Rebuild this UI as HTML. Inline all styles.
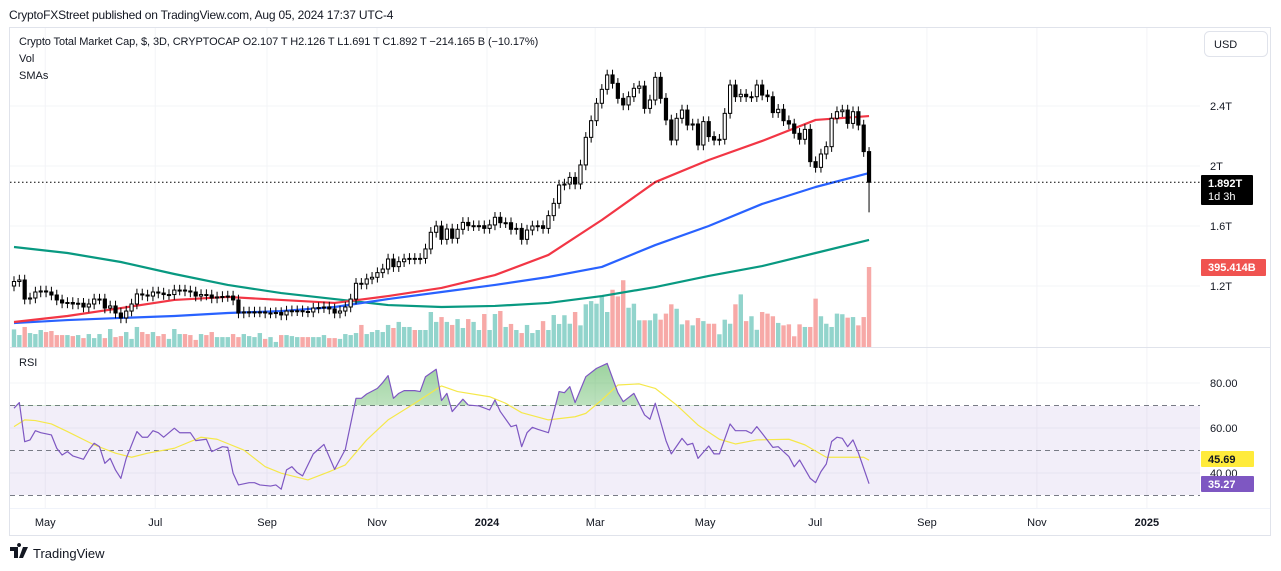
<!DOCTYPE html>
<html><head><meta charset="utf-8">
<style>
html,body{margin:0;padding:0;background:#fff;width:1281px;height:571px;overflow:hidden;font-family:"Liberation Sans",sans-serif;}
svg{display:block}
text{font-family:"Liberation Sans",sans-serif;}
</style></head>
<body>
<svg id="chart" width="1281" height="571" viewBox="0 0 1281 571" xmlns="http://www.w3.org/2000/svg">
<defs>
<linearGradient id="obFill" x1="0" y1="0" x2="0" y2="1">
<stop offset="0" stop-color="#4caf50" stop-opacity="0.55"/>
<stop offset="1" stop-color="#4caf50" stop-opacity="0"/>
</linearGradient>
<clipPath id="above70"><rect x="10" y="348" width="1190" height="58"/></clipPath>
</defs>
<text x="9" y="19" font-size="12" fill="#131722" letter-spacing="-0.2">CryptoFXStreet published on TradingView.com, Aug 05, 2024 17:37 UTC-4</text>
<rect x="9.5" y="27.5" width="1261" height="508" fill="#fff" stroke="#e0e3eb"/>
<g id="grid"></g>
<rect x="10" y="406" width="1190" height="89" fill="#7e57c2" fill-opacity="0.1"/>
<g id="main"></g>
<g id="rsi"></g>
<line x1="10" y1="347.5" x2="1270" y2="347.5" stroke="#e0e3eb"/>
<line x1="10" y1="508.5" x2="1270" y2="508.5" stroke="#f0f3fa"/>
<g id="axes"></g>
<text x="19" y="45" font-size="11" fill="#131722" letter-spacing="-0.1">Crypto Total Market Cap, $, 3D, CRYPTOCAP  O2.107 T  H2.126 T  L1.691 T  C1.892 T  −214.165 B (−10.17%)</text>
<text x="19" y="62" font-size="11" fill="#131722">Vol</text>
<text x="19" y="79" font-size="11" fill="#131722">SMAs</text>
<text x="19" y="366" font-size="11" fill="#131722">RSI</text>
<rect x="1204.5" y="31.5" width="63" height="25" rx="5" fill="#fff" stroke="#e0e3eb"/>
<text x="1214" y="48" font-size="11" fill="#131722">USD</text>
<g>
<path d="M10 547 h8 v11 h-4 v-7 h-4 z M19 547 a2 2 0 1 1 0.1 0 z M23 547 h5 l-5 11 h-4 z" fill="#131722"/>
</g>
<text x="33" y="558" font-size="13" fill="#131722">TradingView</text>
</svg>
<script>
// ---- data ----
const closes = [1.23,1.24,1.113,1.12,1.16,1.167,1.16,1.14,1.107,1.087,
1.09,1.08,1.085,1.06,1.08,1.113,1.113,1.053,1.067,1.02,
0.987,1.033,1.08,1.147,1.14,1.133,1.16,1.153,1.143,1.143,
1.173,1.173,1.167,1.16,1.133,1.143,1.14,1.12,1.127,1.13,
1.133,1.107,1.02,1.027,1.027,1.027,1.027,1.02,1.02,1.023,
1.007,1.033,1.035,1.035,1.03,1.027,1.053,1.056,1.06,1.047,
1.02,1.033,1.06,1.113,1.218,1.213,1.247,1.258,1.289,1.313,
1.38,1.329,1.362,1.38,1.384,1.38,1.384,1.447,1.558,1.6,
1.511,1.58,1.518,1.578,1.624,1.602,1.602,1.602,1.584,1.607,
1.658,1.622,1.622,1.578,1.584,1.511,1.573,1.6,1.602,1.584,
1.669,1.751,1.873,1.88,1.924,1.88,2.007,2.191,2.302,2.418,
2.511,2.607,2.551,2.451,2.407,2.462,2.518,2.533,2.384,2.44,
2.591,2.451,2.307,2.173,2.318,2.373,2.273,2.28,2.14,2.296,
2.196,2.173,2.178,2.351,2.54,2.462,2.478,2.462,2.462,2.54,
2.473,2.462,2.356,2.378,2.302,2.28,2.218,2.178,2.244,2.029,
1.991,2.08,2.129,2.318,2.362,2.373,2.284,2.362,2.273,2.096,1.892];
const firstOpen = 1.20;
const lastHigh = 2.126;
const lastLow = 1.691;
const volumes = [87,59,99,69,64,84,74,79,59,59,59,54,59,44,64,44,64,44,89,49,54,74,40,99,74,64,74,54,64,40,89,64,64,59,35,64,59,74,49,49,49,64,49,64,54,49,69,40,49,25,59,59,54,
49,49,49,49,49,59,44,44,40,64,59,69,109,64,74,84,74,109,94,124,99,99,84,84,84,173,124,148,124,109,138,94,138,124,84,163,84,163,178,99,114,84,69,109,69,84,128,84,158,114,
157,115,173,107,211,227,214,255,173,283,250,330,194,214,132,132,132,165,135,165,211,189,112,132,107,143,128,115,115,63,135,115,211,260,128,152,85,173,165,152,119,107,112,53,112,99,99,239,152,115,99,165,162,145,148,107,148,395.414];
const smaIdx = [0,10,20,30,40,50,60,70,80,90,100,110,120,130,140,150,160];
const sma50 = [0.96,1.0,1.053,1.107,1.127,1.107,1.087,1.133,1.187,1.273,1.407,1.64,1.893,2.04,2.167,2.307,2.333];
const sma100 = [0.953,0.973,0.987,1.0,1.02,1.033,1.06,1.113,1.16,1.207,1.26,1.327,1.473,1.6,1.747,1.86,1.953];
const sma200 = [1.46,1.42,1.36,1.28,1.207,1.153,1.113,1.073,1.06,1.067,1.087,1.133,1.193,1.267,1.333,1.42,1.507];
const rsiIdx = [0,1,2,3,4,5,7,8,9,10,11,13,14,15,16,17,18,19,20,21,23,24,25,26,27,28,30,31,33,34,36,37,39,40,41,42,44,45,46,48,49,50,51,52,53,54,56,58,60,62,64,65,66,68,69,70,71,72,73,75,76,77,79,80,81,82,84,85,87,89,90,91,93,94,95,96,97,98,100,102,103,104,105,107,109,111,113,114,116,118,119,120,122,123,125,126,127,128,130,131,132,134,135,137,138,139,140,142,143,145,146,147,149,150,151,152,153,154,155,156,157,158,160];
const rsiVal = [68.8,71.3,53.9,54.7,58.8,57.9,56.9,51.0,48.0,49.5,47.6,46.1,50.2,53.2,51.7,44.3,46.5,41.3,37.6,46.5,58.4,55.9,55.9,58.8,57.9,55.9,59.9,57.9,57.9,54.4,55.0,49.5,51.7,51.4,39.9,34.7,35.7,35.7,34.7,34.2,34.7,32.8,41.4,42.8,40.2,38.7,48.5,52.7,41.6,50.5,73.2,73.2,75.1,77.6,80.2,83.3,73.2,75.4,76.6,76.6,76.2,82.8,86.1,72.2,75.4,67.3,72.8,70.2,69.8,68.0,72.5,67.3,60.6,61.3,51.7,57.9,60.3,59.4,57.9,76.2,75.7,78.4,71.3,82.8,86.5,88.7,75.7,71.7,75.4,65.8,63.9,71.0,54.4,48.5,55.4,52.5,53.2,46.5,52.0,48.5,48.5,61.8,58.8,58.8,57.6,60.6,57.6,51.4,51.7,47.3,42.8,45.8,37.6,35.7,40.6,44.0,54.0,55.9,55.4,51.7,54.7,49.0,35.27];
const rsiMaIdx = [0,2,4,7,10,15,19,22,25,30,35,38,43,47,50,55,59,62,66,70,75,80,83,89,92,95,100,105,107,110,113,117,120,124,128,132,135,139,145,148,152,155,159,160];
const rsiMaVal = [60.6,63.6,63.3,61.8,58.4,52.5,48.8,47.0,48.8,51.0,55.9,55.0,50.2,42.8,39.9,36.9,40.6,43.6,54.7,63.6,71.0,78.7,76.2,73.9,71.0,66.8,63.6,65.0,66.5,72.5,79.1,79.6,77.6,70.2,61.3,55.0,52.9,54.7,55.0,52.5,47.0,47.0,47.0,45.69];
const priceTicks = [2.4,2.0,1.6,1.2];
const priceTickLabels = ["2.4T","2T","1.6T","1.2T"];
const rsiTicks = [80,60,40];
const rsiTickLabels = ["80.00","60.00","40.00"];
const timeLabels = ["May","Jul","Sep","Nov","2024","Mar","May","Jul","Sep","Nov","2025"];
const timeDays = [-245,-184,-122,-61,0,60,121,182,244,305,366];

// ---- scales ----
const NS="http://www.w3.org/2000/svg";
const X0=14, DX=5.344;
const xi = i => X0 + i*DX;
const yP = v => 106 + (2.4 - v)*150;
const yV = v => 347 - v/395.414*80;
const yR = v => 383 + (80 - v)*2.25;
const xDay = d => 487 + d*1.803;
function mk(tag, attrs, parent){const e=document.createElementNS(NS,tag);for(const k in attrs)e.setAttribute(k,attrs[k]);parent.appendChild(e);return e;}
const main=document.getElementById('main'), rsiG=document.getElementById('rsi'), grid=document.getElementById('grid'), axes=document.getElementById('axes');

timeDays.forEach(d=>{const l=mk('line',{x1:xDay(d),x2:xDay(d),y1:28,y2:508,stroke:'#f3f4f7'},grid);

});
priceTicks.forEach(v=>{const l=mk('line',{x1:10,x2:1200,y1:yP(v),y2:yP(v),stroke:'#f3f4f7'},grid);

});
[80,60,40].forEach(v=>{const l=mk('line',{x1:10,x2:1200,y1:yR(v),y2:yR(v),stroke:'#f3f4f7'},grid);

});

volumes.forEach((v,i)=>{const o=i?closes[i-1]:firstOpen;const up=closes[i]>=o;
const r=mk('rect',{x:xi(i)-2.2,y:yV(v),width:4.4,height:347-yV(v),fill:up?'#92d4cc':'#f7a9a7'},main);

});

function line(idx,vals,ys,color,w,parent,name){const p=mk('polyline',{points:idx.map((k,j)=>xi(k)+','+ys(vals[j])).join(' '),fill:'none',stroke:color,'stroke-width':w,'stroke-linejoin':'round'},parent);

return p;}
line(smaIdx,sma200,yP,'#089981',2.2,main,'sma-200-line');
line(smaIdx,sma100,yP,'#2962ff',2.2,main,'sma-100-line');
line(smaIdx,sma50,yP,'#f23645',2.2,main,'sma-50-line');

closes.forEach((c,i)=>{const o=i?closes[i-1]:firstOpen;const up=c>=o;
let hi=Math.max(o,c)+0.035, lo=Math.min(o,c)-0.035;
if(i===closes.length-1){hi=lastHigh;lo=lastLow;}
const w=mk('line',{x1:xi(i),x2:xi(i),y1:yP(hi),y2:yP(lo),stroke:'#000','stroke-width':1},main);


const top=yP(Math.max(o,c)), bh=Math.max(1,yP(Math.min(o,c))-top);
const b=mk('rect',{x:xi(i)-1.6,y:top,width:3.2,height:bh,fill:up?'#fff':'#000',stroke:'#000','stroke-width':1},main);

});

const pl=mk('line',{x1:10,x2:1200,y1:yP(closes[closes.length-1]),y2:yP(closes[closes.length-1]),stroke:'#000','stroke-dasharray':'1.5 2.5'},main);



[70,50,30].forEach(v=>{const l=mk('line',{x1:10,x2:1200,y1:yR(v),y2:yR(v),stroke:'#787b86','stroke-dasharray':'5 4'},rsiG);

});
const ob=mk('polygon',{points:xi(rsiIdx[0])+','+yR(70)+' '+rsiIdx.map((k,j)=>xi(k)+','+yR(rsiVal[j])).join(' ')+' '+xi(rsiIdx[rsiIdx.length-1])+','+yR(70),fill:'url(#obFill)','clip-path':'url(#above70)'},rsiG);


line(rsiMaIdx,rsiMaVal,yR,'#f5e84a',1.2,rsiG,'rsi-ma-line');
line(rsiIdx,rsiVal,yR,'#7e57c2',1.2,rsiG,'rsi-line');

priceTicks.forEach((v,j)=>{const t=mk('text',{x:1210,y:yP(v)+4,'font-size':11,fill:'#131722'},axes);t.textContent=priceTickLabels[j];

});
rsiTicks.forEach((v,j)=>{const t=mk('text',{x:1210,y:yR(v)+4,'font-size':11,fill:'#131722'},axes);t.textContent=rsiTickLabels[j];

});
timeLabels.forEach((s,j)=>{const t=mk('text',{x:xDay(timeDays[j]),y:526,'font-size':11,fill:'#131722','text-anchor':'middle','font-weight':(s.length===4?'bold':'normal')},axes);t.textContent=s;

});

function badge(x,y,w,h,fill,lines,color,name){const g=mk('g',{},axes);


mk('rect',{x:x,y:y,width:w,height:h,fill:fill,rx:1},g);
lines.forEach((s,k)=>{const t=mk('text',{x:x+7,y:y+12+k*13,'font-size':11,fill:color,'font-weight':k===0?'bold':'normal'},g);t.textContent=s;});}
badge(1201,175,52,30,'#000',[closes[closes.length-1].toFixed(3)+'T','1d 3h'],'#fff','last-price-badge');
badge(1201,259,65,17,'#f05350',['395.414B'],'#fff','volume-badge');
badge(1201,451,53,16,'#ffeb3b',[rsiMaVal[rsiMaVal.length-1].toFixed(2)],'#131722','rsi-ma-badge');
badge(1201,476,53,16,'#7e57c2',[rsiVal[rsiVal.length-1].toFixed(2)],'#fff','rsi-badge');
</script>
</body></html>
